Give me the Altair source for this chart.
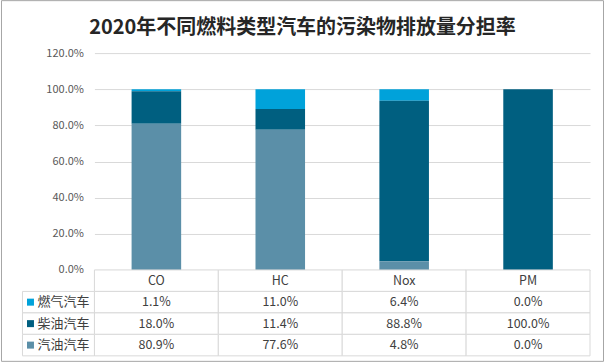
import altair as alt
import pandas as pd

categories = ["CO", "HC", "Nox", "PM"]
series = ["燃气汽车", "柴油汽车", "汽油汽车"]
gas_values = [1.1, 11.0, 6.4, 0.0]
diesel_values = [18.0, 11.4, 88.8, 100.0]
petrol_values = [80.9, 77.6, 4.8, 0.0]
colors = ["#00a2da", "#005f80", "#5b8fa8"]
y_ticks = [0, 0.2, 0.4, 0.6, 0.8, 1.0, 1.2]
title_text = "2020年不同燃料类型汽车的污染物排放量分担率"

values_by_series = {"燃气汽车": gas_values, "柴油汽车": diesel_values, "汽油汽车": petrol_values}
stack_order = {"汽油汽车": 0, "柴油汽车": 1, "燃气汽车": 2}

records = []
for s in series:
    for c, v in zip(categories, values_by_series[s]):
        records.append({"category": c, "row": s, "value": v / 100,
                        "order": stack_order[s], "label": f"{v:.1f}%"})
df = pd.DataFrame(records)

header = pd.DataFrame({"category": categories, "row": "hdr", "label": categories})
table_df = pd.concat([header, df[["category", "row", "label"]]], ignore_index=True)
legend_df = pd.DataFrame({"row": series})
rows_domain = ["hdr"] + series

W, H, TH = 496, 217, 86
FONT = "Noto Sans CJK SC"
GRID = "#d9d9d9"
color_scale = alt.Scale(domain=series, range=colors)

bars = alt.Chart(df).mark_bar().encode(
    x=alt.X("category:N", sort=categories,
            scale=alt.Scale(paddingInner=0.6, paddingOuter=0.3), axis=None),
    y=alt.Y("value:Q", stack="zero",
            scale=alt.Scale(domain=[0, 1.2], nice=False),
            axis=alt.Axis(values=y_ticks, format=".1%", title=None, domain=False,
                          ticks=False, gridColor=GRID, labelColor="#595959",
                          labelFont=FONT, labelFontSize=11, labelPadding=11)),
    color=alt.Color("row:N", scale=color_scale, legend=None),
    order=alt.Order("order:Q"),
)

# outer frame of the whole picture
frame = alt.Chart(legend_df.head(1)).mark_rect(fill=None, stroke="#a6a6a6", strokeWidth=1).encode(
    x=alt.value(-93), x2=alt.value(509.5), y=alt.value(-52.5), y2=alt.value(308.5))

top = alt.layer(bars, frame).properties(width=W, height=H)

tx = alt.X("category:N", sort=categories,
           scale=alt.Scale(paddingInner=0, paddingOuter=0), axis=None)
ty = alt.Y("row:N", sort=rows_domain,
           scale=alt.Scale(domain=rows_domain, paddingInner=0, paddingOuter=0), axis=None)

cells = alt.Chart(table_df).mark_rect(fill="white", stroke=GRID, strokeWidth=1).encode(x=tx, y=ty)
cell_text = alt.Chart(table_df).mark_text(font=FONT, fontSize=12.5, color="#404040").encode(
    x=tx, y=ty, text="label:N")
leg_cells = alt.Chart(legend_df).mark_rect(fill="white", stroke=GRID, strokeWidth=1).encode(
    x=alt.value(-72), x2=alt.value(0), y=ty)
swatches = alt.Chart(legend_df).mark_square(size=49, opacity=1).encode(
    x=alt.value(-64), y=ty, color=alt.Color("row:N", scale=color_scale, legend=None))
leg_text = alt.Chart(legend_df).mark_text(align="left", font=FONT, fontSize=13,
                                          color="#404040").encode(
    x=alt.value(-57), y=ty, text="row:N")

table = alt.layer(cells, cell_text, leg_cells, swatches, leg_text).properties(width=W, height=TH)

chart = alt.vconcat(top, table, spacing=0, bounds="flush").properties(
    title=alt.Title(title_text, font=FONT, fontSize=20, fontWeight="bold",
                    color="#262626", anchor="middle", offset=-38),
    padding={"left": 0.5, "right": 1, "top": 0, "bottom": 1},
).configure_view(stroke=None)

chart.save("out.html", embed_options={"renderer": "svg", "actions": False})
